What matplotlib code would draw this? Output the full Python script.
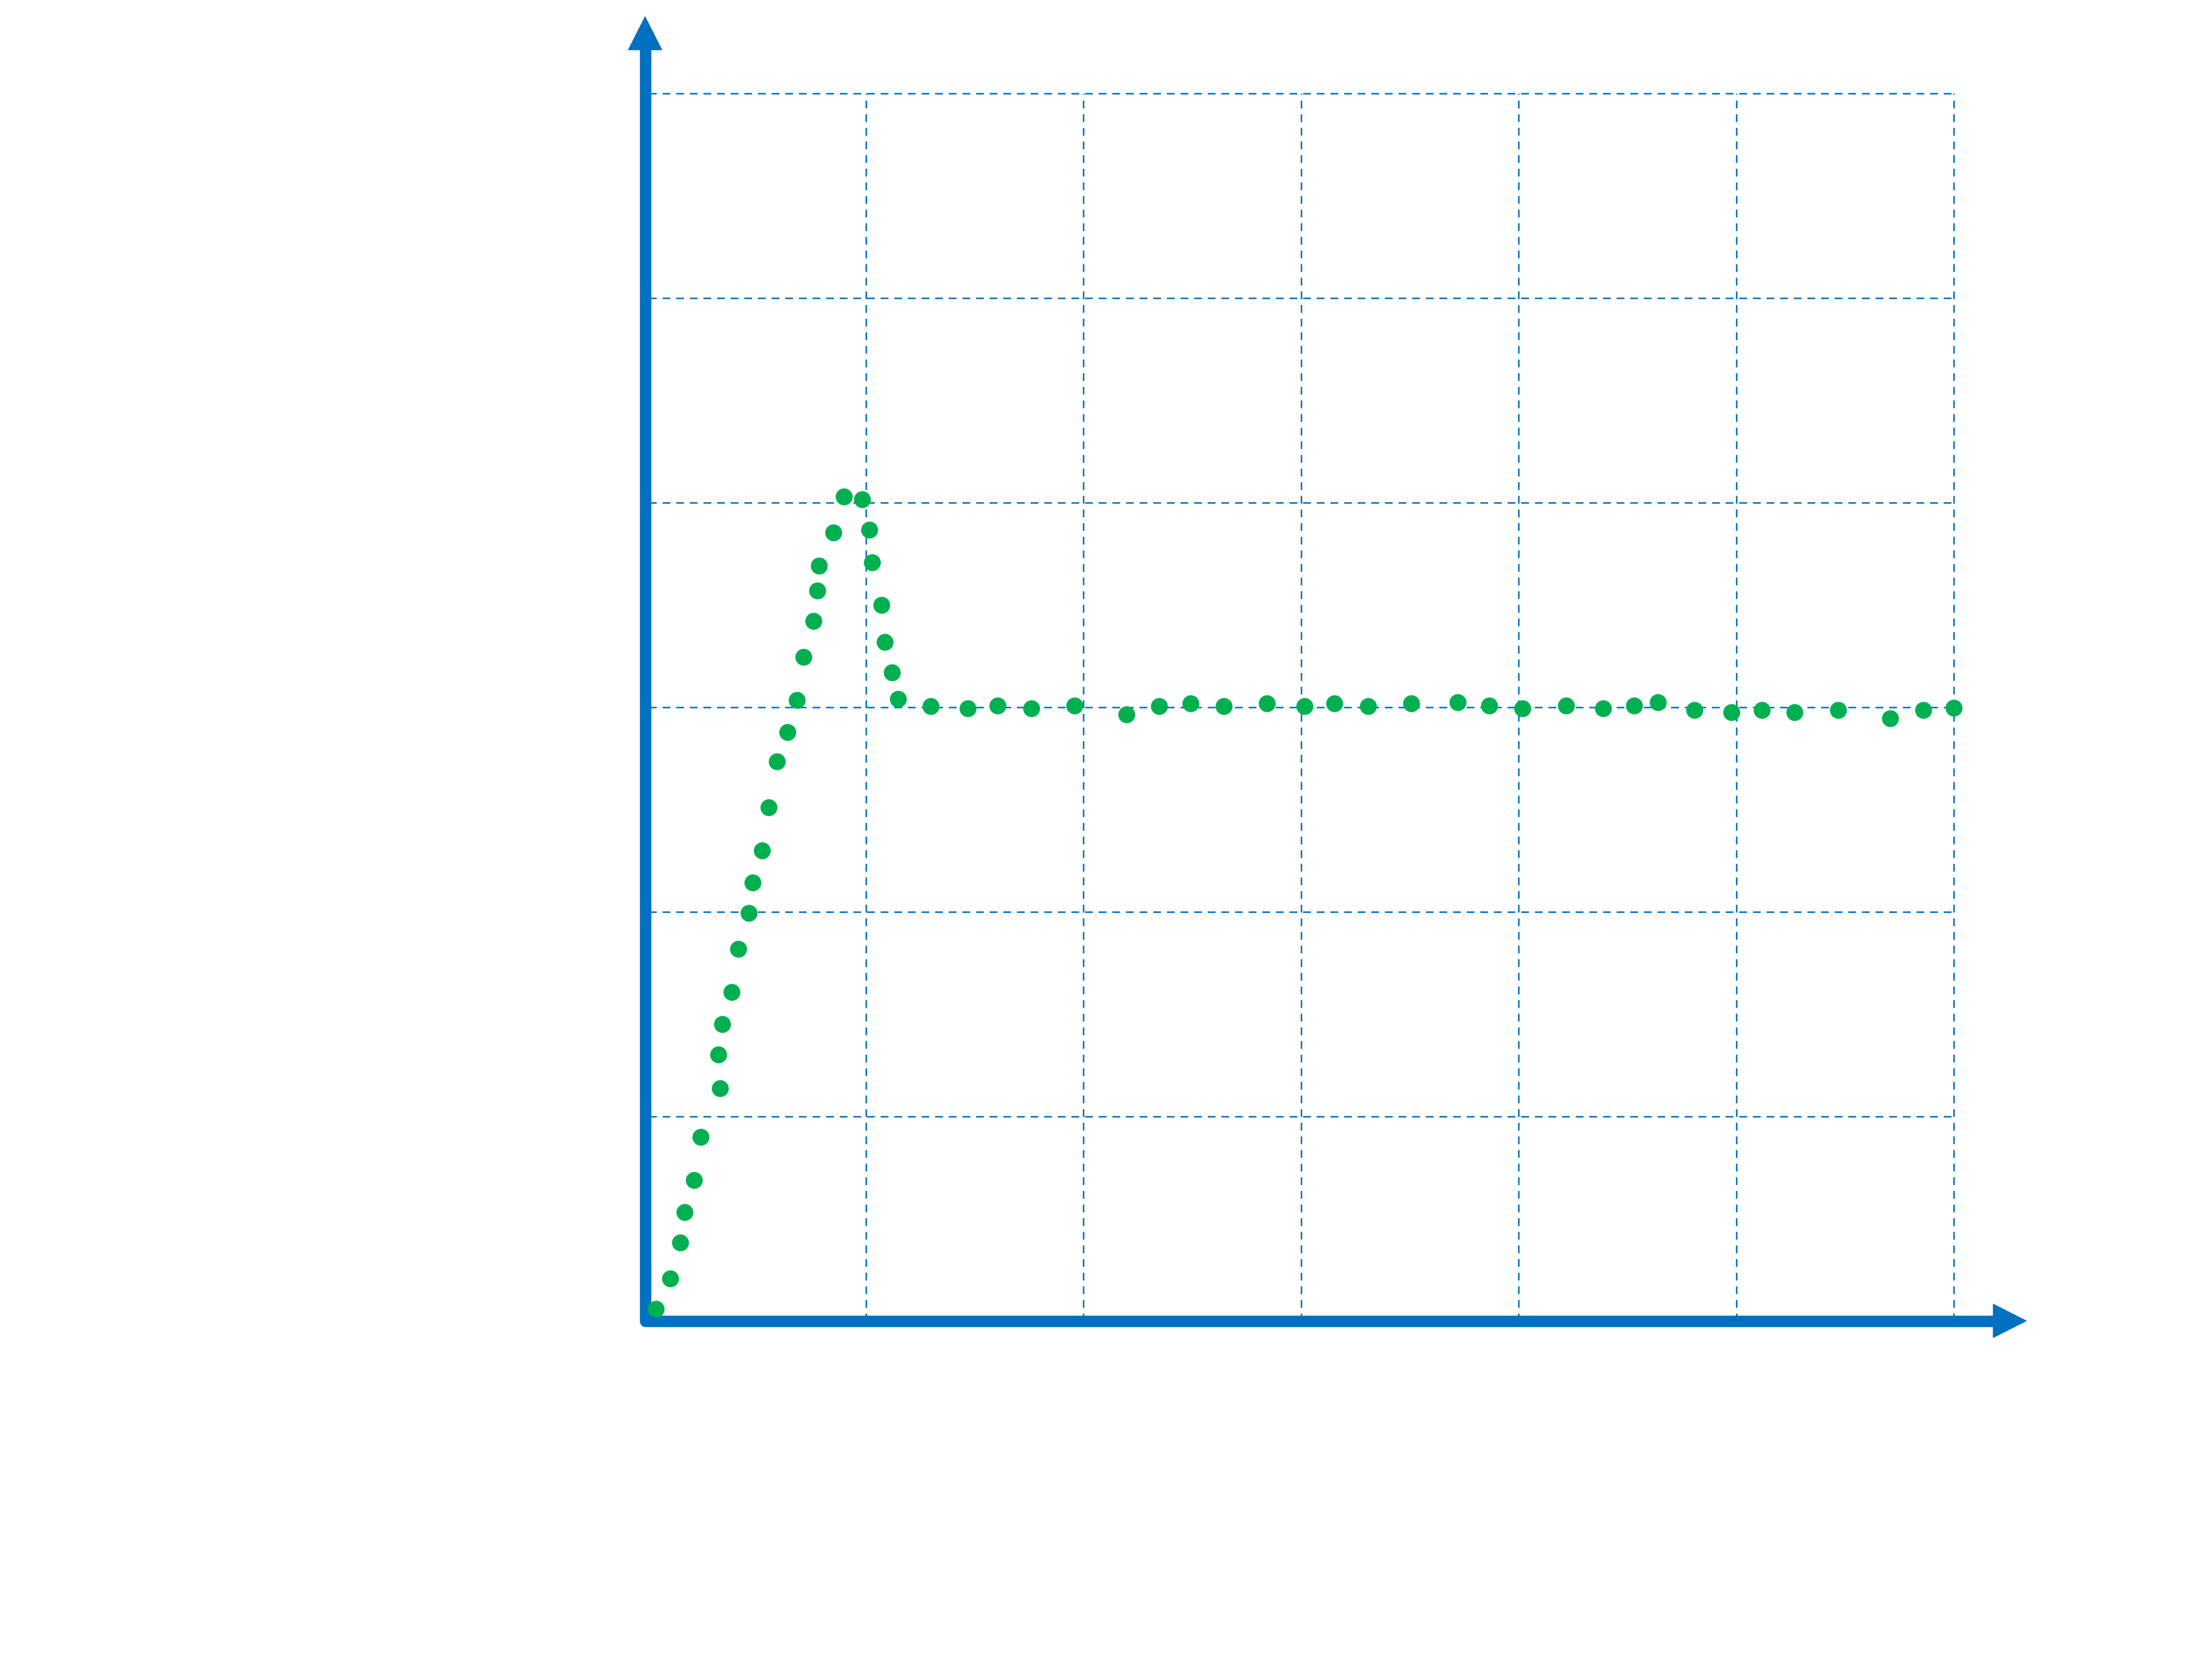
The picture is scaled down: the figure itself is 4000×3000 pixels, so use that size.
import matplotlib
matplotlib.use("Agg")
import matplotlib.pyplot as plt

# readings (time, response)
t_vals = [0.035, 0.100, 0.147, 0.165, 0.209, 0.239, 0.329, 0.322, 0.340, 0.383,
          0.414, 0.461, 0.480, 0.522, 0.553, 0.591, 0.638, 0.681, 0.712, 0.759,
          0.777, 0.783, 0.851, 0.898, 0.982, 1.015, 1.028, 1.070, 1.086, 1.119,
          1.147, 1.297, 1.467, 1.606, 1.760, 1.959, 2.198, 2.348, 2.491, 2.644,
          2.844, 3.015, 3.154, 3.308, 3.507, 3.721, 3.864, 4.017, 4.217, 4.388,
          4.531, 4.641, 4.809, 4.977, 5.119, 5.269, 5.469, 5.708, 5.861, 6.000]
y_vals = [0.059, 0.208, 0.382, 0.532, 0.688, 0.899, 1.137, 1.302, 1.451, 1.608,
          1.819, 1.993, 2.143, 2.300, 2.511, 2.735, 2.878, 3.034, 3.245, 3.420,
          3.569, 3.690, 3.854, 4.028, 4.015, 3.868, 3.707, 3.498, 3.317, 3.170,
          3.039, 3.005, 2.993, 3.006, 2.993, 3.006, 2.963, 3.004, 3.017, 3.004,
          3.017, 3.004, 3.017, 3.004, 3.017, 3.024, 3.006, 2.993, 3.006, 2.993,
          3.006, 3.024, 2.985, 2.976, 2.985, 2.976, 2.985, 2.944, 2.985, 2.996]
grid_ticks = [0, 1, 2, 3, 4, 5, 6]

BLUE = "#0070C0"
GREEN = "#00B050"

fig = plt.figure(figsize=(16, 12), dpi=250)
ax = fig.add_axes([0.29315, 0.20383, 0.5901, 0.73992])
ax.set_xlim(0, 6)
ax.set_ylim(0, 6)
ax.set_xticks(grid_ticks)
ax.set_yticks(grid_ticks)
ax.tick_params(length=0, labelbottom=False, labelleft=False)
for s in ax.spines.values():
    s.set_visible(False)
ax.grid(True, color=BLUE, lw=0.78, ls=(0, (5.2, 3.9)), zorder=1)
ax.set_axisbelow(True)
for gl in ax.get_xgridlines() + ax.get_ygridlines():
    gl.set_clip_on(False)

# axis shafts (the vertical one sits a hair left of x=0 in the original)
x0 = -0.0155
ax.plot([x0, x0, 6.19], [6.22, 0, 0], color=BLUE, lw=5.95,
        solid_joinstyle="round", solid_capstyle="butt", clip_on=False, zorder=3)
# arrow heads
head = dict(arrowstyle="-|>,head_length=1.78,head_width=0.9", color=BLUE,
            lw=0, shrinkA=0, shrinkB=0)
ax.annotate("", xy=(x0, 6.378), xytext=(x0, 6.0), arrowprops=head,
            annotation_clip=False, zorder=3)
ax.annotate("", xy=(6.337, 0), xytext=(6.0, 0), arrowprops=head,
            annotation_clip=False, zorder=3)

ax.plot(t_vals, y_vals, ls="none", marker="o", ms=8.8, color=GREEN,
        mew=0, clip_on=False, zorder=4)

fig.savefig("out.png", dpi=250, facecolor="white")
